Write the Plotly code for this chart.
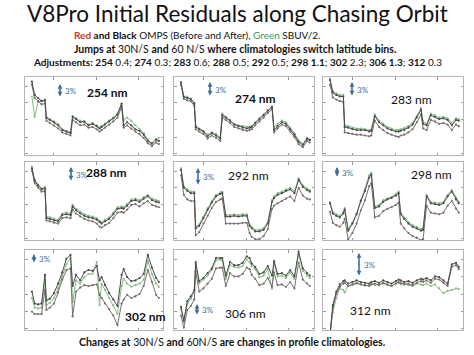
import plotly.graph_objects as go

# position along the chasing orbit (percent of the track)
pos = [5, 7, 9.5, 12, 14.5, 15.5, 18, 21, 24, 27, 30, 33, 34.5, 37, 40, 43, 46, 49, 52, 54,
       55.5, 58, 61, 64, 67, 70, 71.5, 74, 77, 80, 83, 86, 89, 92, 95, 97]

wavelengths = ["254 nm", "274 nm", "283 nm", "288 nm", "292 nm", "298 nm", "302 nm", "306 nm", "312 nm"]

nm254_after = [94,77,73,69,70,48,45,42,38,32,30,28,49,46,42,43,38,40,37,34,36,39,43,47,52,66,38,42,38,33,31,26,18,15,20,18]
nm254_before = [90,73,69,65,66,44,41,38,34,29,27,25,45,42,38,39,35,36,33,30,32,35,39,43,48,62,35,38,34,30,27,22,15,12,16,14]
nm254_sbuv = [75,49,68,70,71,48,46,43,40,33,31,29,50,47,44,42,39,41,38,35,37,40,44,48,53,65,45,48,44,38,33,28,20,11,18,22]

nm274_after = [93,75,73,72,66,36,33,30,24,28,25,21,51,48,44,39,37,35,34,35,36,41,46,51,57,62,32,37,42,40,33,26,17,13,21,19]
nm274_before = [90,72,70,69,63,33,30,27,21,25,22,18,48,45,41,36,34,32,31,32,33,38,43,48,54,59,29,34,39,37,30,23,14,10,18,16]
nm274_sbuv = [90,73,75,71,67,38,34,31,26,29,27,23,53,49,45,40,38,37,36,36,37,42,47,52,57,61,35,40,44,42,35,28,19,14,22,20]

nm283_after = [96,80,77,75,75,36,35,33,32,32,32,30,31,50,42,38,34,32,30,30,31,32,35,39,48,58,40,38,51,49,46,47,45,38,45,44]
nm283_before = [90,74,71,69,68,29,28,27,26,26,25,24,25,44,36,32,28,26,24,23,25,26,29,33,42,52,34,32,45,43,40,41,39,32,39,37]
nm283_sbuv = [98,82,79,77,77,38,37,35,34,34,33,32,33,52,44,40,36,34,32,32,33,34,37,41,50,60,43,40,53,51,48,49,47,41,47,46]

nm288_after = [92,76,70,65,66,28,27,25,24,32,33,32,43,38,34,31,29,28,26,23,21,24,27,33,40,41,40,44,50,51,49,53,56,51,49,48]
nm288_before = [89,73,67,62,63,25,24,22,21,28,29,28,39,34,30,27,25,24,21,17,16,19,22,28,35,36,35,39,45,46,43,47,50,45,43,42]
nm288_sbuv = [94,77,71,66,68,30,29,27,26,34,35,34,45,40,36,33,31,30,28,25,23,26,29,35,42,43,42,46,52,53,51,55,58,53,51,50]

nm292_after = [90,67,63,60,60,15,18,28,39,48,56,59,60,30,30,31,30,31,31,18,15,11,11,13,21,49,54,58,60,63,65,60,77,68,64,62]
nm292_before = [83,58,52,50,50,6,10,21,31,41,49,52,53,21,21,21,21,22,22,9,4,1,1,5,14,40,44,47,50,53,56,50,67,57,53,52]
nm292_sbuv = [92,69,65,62,62,17,20,30,41,50,58,61,62,32,32,33,32,33,33,20,17,13,13,15,23,51,56,60,62,65,67,62,79,70,66,64]

nm298_after = [47,34,31,29,34,39,12,21,33,50,63,80,84,41,43,49,52,54,57,60,33,27,21,17,15,12,13,56,47,46,45,47,56,62,52,47]
nm298_before = [36,22,19,17,22,27,1,9,21,38,51,69,73,29,31,37,40,42,45,48,21,15,9,5,3,0,1,44,35,34,33,35,44,50,40,35]
nm298_sbuv = [49,36,33,31,36,41,14,22,34,51,65,83,86,43,45,51,53,55,59,62,35,29,23,19,17,14,15,58,49,48,47,49,58,64,54,49]

nm302_after = [48,33,32,33,69,37,39,46,58,72,89,94,55,69,62,72,75,74,80,62,66,56,46,38,30,69,76,66,61,62,65,70,94,78,65,60]
nm302_before = [23,20,20,20,50,25,28,33,47,63,75,77,17,48,53,56,55,56,57,44,40,33,26,18,6,33,38,44,40,42,45,55,75,60,44,40]
nm302_sbuv = [40,28,27,28,62,31,34,40,52,66,82,90,35,62,58,66,70,70,85,31,58,50,40,31,20,55,64,58,54,56,58,63,86,70,58,54]

nm306_after = [29,12,36,42,50,85,61,65,71,77,90,90,90,68,85,81,81,84,92,90,83,79,70,72,80,68,86,70,71,68,75,67,98,77,71,68]
nm306_before = [18,3,25,30,38,73,48,52,58,64,77,78,78,55,71,67,67,70,78,76,69,64,56,58,65,54,72,56,57,54,60,52,84,63,58,55]
nm306_sbuv = [26,10,32,39,47,82,58,63,68,75,87,88,87,64,81,79,78,80,88,85,80,76,66,68,76,52,84,67,68,65,72,64,95,74,68,65]

nm312_after = [-5,31,48,57,61,62,58,60,62,60,59,58,60,61,59,62,60,58,61,63,62,60,61,59,62,64,63,65,62,67,66,62,58,82,84,79]
nm312_before = [-8,28,45,54,58,59,55,57,59,57,56,55,57,58,56,59,57,55,58,60,59,57,58,56,59,61,60,62,59,64,63,59,55,79,81,76]
nm312_sbuv = [-6,22,40,52,50,47,55,56,58,57,55,56,57,56,57,58,56,55,58,59,57,58,56,55,58,57,56,58,55,57,52,46,49,50,52,51]

series = [
    (nm254_before, nm254_after, nm254_sbuv),
    (nm274_before, nm274_after, nm274_sbuv),
    (nm283_before, nm283_after, nm283_sbuv),
    (nm288_before, nm288_after, nm288_sbuv),
    (nm292_before, nm292_after, nm292_sbuv),
    (nm298_before, nm298_after, nm298_sbuv),
    (nm302_before, nm302_after, nm302_sbuv),
    (nm306_before, nm306_after, nm306_sbuv),
    (nm312_before, nm312_after, nm312_sbuv),
]

W, H = 474, 355
FONT = "Lato"
C_BEFORE = "#7b6c6c"
C_AFTER = "#4a4a4a"
C_SBUV = "#86bc86"
AX_COL = "#b5b5b5"
ARROW_COL = "#3d6f98"

col_px = [(25, 163), (174, 314), (323, 463)]
row_px = [(77, 155), (162, 240), (250, 330)]

# label positions (pixel) and 3% scale bar (x, top, bottom) per panel
label_px = [(107, 92, True), (255, 98, True), (411, 99, False),
            (106, 172, True), (248, 175, False), (431, 174, False),
            (145, 316, True), (245, 313, False), (370, 310, False)]
bar_px = [(60, 84, 98), (210, 82, 97), (352, 82, 97),
          (71, 167, 182), (198, 168, 186), (337, 167, 178),
          (34, 254, 264), (197, 304, 316), (359, 253, 277)]


def px(x, y):
    return x / W, 1 - y / H


fig = go.Figure()
annotations = []
layout = {}
for i, (before, after, sbuv) in enumerate(series):
    r, c = divmod(i, 3)
    n = i + 1
    xa = "x" if n == 1 else f"x{n}"
    ya = "y" if n == 1 else f"y{n}"
    for vals, col in ((sbuv, C_SBUV), (before, C_BEFORE), (after, C_AFTER)):
        fig.add_trace(go.Scatter(
            x=pos, y=vals, xaxis=xa, yaxis=ya, mode="lines+markers",
            line=dict(color=col, width=1), marker=dict(size=2.2, color=col),
            showlegend=False, hoverinfo="skip"))
    x0, x1 = col_px[c]
    y0, y1 = row_px[r]
    common = dict(showline=True, linecolor=AX_COL, linewidth=1, mirror="ticks",
                  ticks="inside", ticklen=2.5, tickcolor="#999999",
                  showticklabels=False, showgrid=False, zeroline=False, fixedrange=True)
    layout["xaxis" if n == 1 else f"xaxis{n}"] = dict(
        domain=[x0 / W, x1 / W], anchor=ya, range=[0, 100],
        tickvals=[21, 51.5, 82], **common)
    layout["yaxis" if n == 1 else f"yaxis{n}"] = dict(
        domain=[1 - y1 / H, 1 - y0 / H], anchor=xa, range=[0, 100],
        tickvals=[2, 23, 45, 67, 88], **common)

    lx, ly, bold = label_px[i]
    txt = f"<b>{wavelengths[i]}</b>" if bold else wavelengths[i]
    ax_, ay_ = px(lx, ly)
    annotations.append(dict(x=ax_, y=ay_, xref="paper", yref="paper",
                            xanchor="center", yanchor="middle",
                            text=txt, showarrow=False,
                            font=dict(family=FONT, size=12, color="#111111")))
    bx, bt, bb = bar_px[i]
    hx, hy = px(bx, bt)
    annotations.append(dict(x=hx, y=hy, xref="paper", yref="paper",
                            ax=0, ay=bb - bt, text="", showarrow=True,
                            arrowhead=2, startarrowhead=2, arrowside="end+start",
                            arrowsize=0.6, startarrowsize=0.6, arrowwidth=1.6,
                            arrowcolor=ARROW_COL, standoff=0, startstandoff=0))
    tx, ty = px(bx + 3, (bt + bb) / 2)
    annotations.append(dict(x=tx, y=ty, xref="paper", yref="paper",
                            xanchor="left", yanchor="middle", text="3%", showarrow=False,
                            font=dict(family=FONT, size=8, color=ARROW_COL)))


def text_ann(x, y, text, size, xanchor="center"):
    xx, yy = px(x, y)
    return dict(x=xx, y=yy, xref="paper", yref="paper", xanchor=xanchor, yanchor="middle",
                text=text, showarrow=False, font=dict(family=FONT, size=size, color="#111111"))


annotations.append(text_ann(237, 13.5, "V8Pro Initial Residuals along Chasing Orbit", 22.5))
annotations.append(text_ann(72, 35,
                            "<span style='color:#c0392b'><b>Red</b></span><b> and Black</b> OMPS (Before and After), "
                            "<span style='color:#3a9a5a'>Green</span> SBUV/2.", 10, "left"))
annotations.append(text_ann(72, 48.5,
                            "<b>Jumps at</b> 30N/S <b>and</b> 60 N/S <b>where climatologies switch latitude bins.</b>",
                            10.5, "left"))
annotations.append(text_ann(237, 62.5,
                            "<b>Adjustments:</b> <b>254</b> 0.4; <b>274</b> 0.3; <b>283</b> 0.6; <b>288</b> 0.5; "
                            "<b>292</b> 0.5; <b>298 1.1</b>; <b>302</b> 2.3; <b>306 1.3</b>; <b>312</b> 0.3", 10))
annotations.append(text_ann(232, 342,
                            "<b>Changes at</b> 30N/S <b>and</b> 60N/S <b>are changes in profile climatologies.</b>",
                            10.5))

fig.update_layout(width=W, height=H, margin=dict(l=0, r=0, t=0, b=0),
                  paper_bgcolor="white", plot_bgcolor="white",
                  annotations=annotations, **layout)
fig.write_html("out.html", config={"displayModeBar": False},
               post_script="document.body.style.margin='0px';")
